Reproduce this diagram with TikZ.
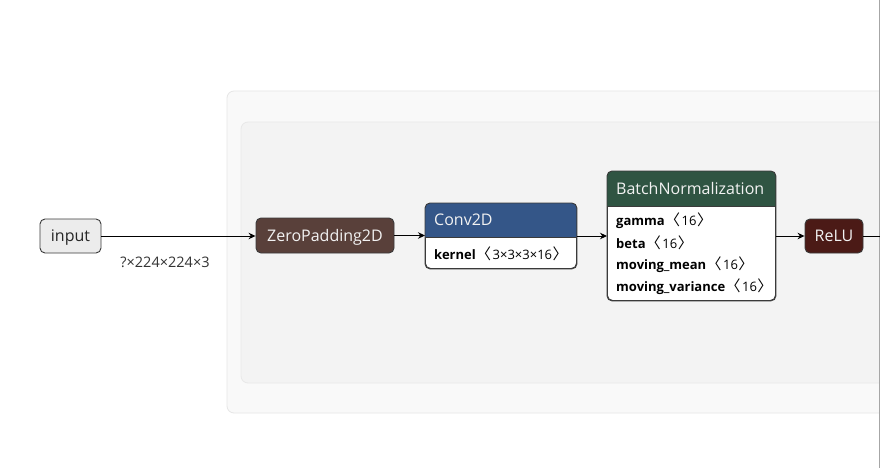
\documentclass[tikz,border=0pt]{standalone}
\usepackage{fontspec}
\setmainfont{Open Sans}
\newfontfamily\cjk{Noto Sans CJK SC}
\usetikzlibrary{arrows.meta}
\newcommand{\ab}[1]{\kern-3pt{\cjk\fontsize{15}{16}\selectfont 〈}\kern1.5pt#1\kern0.5pt{\cjk\fontsize{15}{16}\selectfont 〉}}
\definecolor{inputfill}{HTML}{ECECEC}
\definecolor{edgec}{HTML}{3A3A3A}
\definecolor{zpc}{HTML}{59403A}
\definecolor{convc}{HTML}{345688}
\definecolor{bnc}{HTML}{2F5442}
\definecolor{reluc}{HTML}{4B1A16}
\definecolor{outerf}{HTML}{F9F9F9}
\definecolor{outerd}{HTML}{E6E6E6}
\definecolor{innerf}{HTML}{F3F3F3}
\definecolor{innerd}{HTML}{E8E8E8}
\definecolor{hdrtext}{HTML}{F2F2F2}
\begin{document}
\begin{tikzpicture}[x=1pt,y=-1pt,
  opnode/.style={draw=edgec, line width=0.9pt, rounded corners=5pt, inner sep=0pt,
    text height=11.5pt, text depth=0pt,
    font=\fontsize{16}{18}\selectfont, text=hdrtext},
  cardbox/.style={draw=edgec, line width=0.9pt, rounded corners=5pt, fill=white, inner sep=0pt, anchor=north west},
  hdrtxt/.style={anchor=west, inner sep=0pt, font=\fontsize{16}{18}\selectfont, text=hdrtext},
  attr/.style={anchor=west, inner sep=0pt, font=\fontsize{13}{15}\selectfont},
  conn/.style={line width=1pt, -{Stealth[length=7pt,width=6.5pt]}},
  container/.style={line width=0.8pt, rounded corners=7pt}
]
\useasboundingbox (0,0) rectangle (880,468);
\clip (0,0) rectangle (880,468);
\fill[white] (0,0) rectangle (880,468);
% containers
\draw[container, fill=outerf, draw=outerd] (227,91) rectangle (910,413);
\draw[container, fill=innerf, draw=innerd] (241,122) rectangle (910,383);
% scrollbar edge
\draw[line width=1pt, draw=black!35] (879,0) -- (879,468);
% input
\node[opnode, fill=inputfill, text=black!85, minimum width=61pt, minimum height=34pt] (input) at (70.5,236) {input};
\node[anchor=center, inner sep=0pt, font=\fontsize{14.5}{16}\selectfont, text=black!80] (shape) at (165,262) {?×224×224×3};
% ZeroPadding2D
\node[opnode, fill=zpc, minimum width=138pt, minimum height=35pt] (zp) at (325,235.5) {ZeroPadding2D};
% Conv2D
\node[cardbox, minimum width=151pt, minimum height=65pt] (conv) at (425,203) {};
\begin{scope}
  \clip[rounded corners=5pt] (conv.north west) rectangle (conv.south east);
  \fill[convc] (conv.north west) rectangle ([yshift=-34pt]conv.north east);
\end{scope}
\draw[edgec, line width=0.9pt] ([yshift=-34pt]conv.north west) -- ([yshift=-34pt]conv.north east);
\draw[edgec, line width=0.9pt, rounded corners=5pt] (conv.north west) rectangle (conv.south east);
\node[hdrtxt] (convt) at (434,220) {Conv2D};
\node[attr] (convk) at (434,254) {\textbf{kernel} \ab{3×3×3×16}};
% BatchNormalization
\node[cardbox, minimum width=168pt, minimum height=129pt] (bn) at (607,171) {};
\begin{scope}
  \clip[rounded corners=5pt] (bn.north west) rectangle (bn.south east);
  \fill[bnc] (bn.north west) rectangle ([yshift=-35pt]bn.north east);
\end{scope}
\draw[edgec, line width=0.9pt] ([yshift=-35pt]bn.north west) -- ([yshift=-35pt]bn.north east);
\draw[edgec, line width=0.9pt, rounded corners=5pt] (bn.north west) rectangle (bn.south east);
\node[hdrtxt] (bnt) at (616,188.5) {BatchNormalization};
\node[attr] (bn1) at (616,221) {\textbf{gamma} \ab{16}};
\node[attr] (bn2) at (616,243) {\textbf{beta} \ab{16}};
\node[attr] (bn3) at (616,265) {\textbf{moving\_mean} \ab{16}};
\node[attr] (bn4) at (616,286.5) {\textbf{moving\_variance} \ab{16}};
% ReLU
\node[opnode, fill=reluc, minimum width=58pt, minimum height=34pt] (relu) at (834,236) {ReLU};
\coordinate (out) at (885,236);
% connectors
\draw[conn] (input.east) -- (zp.west |- input.east);
\draw[conn] (zp.east) -- (conv.west |- zp.east);
\draw[conn] (conv.east |- relu.west) -- (bn.west |- relu.west);
\draw[conn] (bn.east |- relu.west) -- (relu.west);
\draw[line width=1pt] (relu.east) -- (out);
\end{tikzpicture}
\end{document}
